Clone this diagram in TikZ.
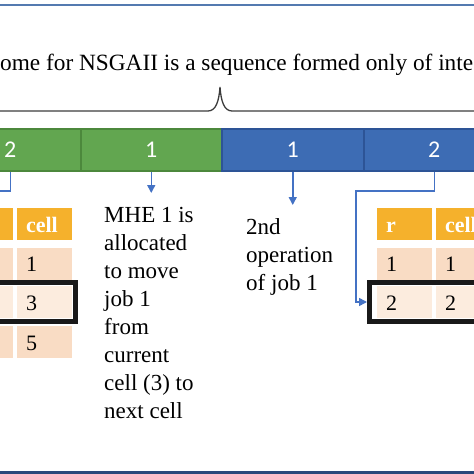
\documentclass[tikz,border=0pt]{standalone}
\usepackage{fontspec}
\setmainfont{Liberation Serif}
\newfontfamily\calib{Carlito}
\usetikzlibrary{arrows.meta}
\definecolor{gfill}{RGB}{98,166,80}
\definecolor{gdraw}{RGB}{76,136,60}
\definecolor{bfill}{RGB}{61,108,180}
\definecolor{bdraw}{RGB}{45,84,150}
\definecolor{arrblue}{RGB}{68,114,196}
\definecolor{hdr}{RGB}{245,177,44}
\definecolor{rowa}{RGB}{249,220,196}
\definecolor{rowb}{RGB}{252,236,222}
\definecolor{topline}{RGB}{84,122,176}
\definecolor{botline}{RGB}{44,72,122}
\definecolor{bracec}{RGB}{60,60,60}
\begin{document}
\begin{tikzpicture}[x=1pt,y=-1pt,
  seg/.style={minimum width=141.5pt, minimum height=42pt, inner sep=0pt, line width=2pt, text=white, font=\calib\fontsize{24}{24}\selectfont},
  tcell/.style={minimum height=32pt, text width=37pt, inner xsep=9pt, inner ysep=0pt, align=left, text height=16pt, text depth=0pt, font=\fontsize{22}{22}\selectfont},
  thead/.style={tcell, fill=hdr, text=white, font=\bfseries\fontsize{22}{22}\selectfont},
  trowa/.style={tcell, fill=rowa},
  trowb/.style={tcell, fill=rowb},
  selbox/.style={draw=black!90, line width=5pt, minimum height=39pt, inner sep=0pt},
  txt/.style={align=left, inner sep=0pt, font=\fontsize{23}{28}\selectfont},
  arr/.style={draw=arrblue, line width=1.5pt, -{Triangle[length=8pt,width=8pt]}}
]
\useasboundingbox (0,0) rectangle (474,474);
\clip (0,0) rectangle (474,474);
% frame lines
\draw[topline, line width=2.5pt] (-5,5) -- (480,5);
\draw[botline, line width=3pt] (-5,472) -- (480,472);
% title
\node[anchor=base west, inner sep=0pt, font=\fontsize{23.3}{28}\selectfont] (title) at (0,70) {ome for NSGAII is a sequence formed only of inte};
% brace
\draw[bracec, line width=1.3pt] (-5,111) -- (208,111) .. controls (216,111) and (219,101) .. (220,87) .. controls (221,101) and (224,111) .. (232,111) -- (480,111);
% chromosome bar
\node[seg, fill=gfill, draw=gdraw] (s1) at (10.25,150) {2};
\node[seg, fill=gfill, draw=gdraw] (s2) at (151.25,150) {1};
\node[seg, fill=bfill, draw=bdraw] (s3) at (292.75,150) {1};
\node[seg, fill=bfill, draw=bdraw] (s4) at (434.25,150) {2};
% left table
\node[thead] (lh1) at (-14.5,224) {};
\node[thead] (lh2) at (44.5,224) {cell};
\node[trowa] (l11) at (-14.5,263.5) {};
\node[trowa] (l12) at (44.5,263.5) {1};
\node[trowb] (l21) at (-14.5,302) {};
\node[trowb] (l22) at (44.5,302) {3};
\node[trowa] (l31) at (-14.5,342) {};
\node[trowa] (l32) at (44.5,342) {5};
\node[selbox, minimum width=145pt] (lbox) at (2.5,302) {};
% right table
\node[thead] (rh1) at (404.5,224) {r};
\node[thead] (rh2) at (463.5,224) {cell};
\node[trowa] (r11) at (404.5,263.5) {1};
\node[trowa] (r12) at (463.5,263.5) {1};
\node[trowb] (r21) at (404.5,302) {2};
\node[trowb] (r22) at (463.5,302) {2};
\node[selbox, minimum width=170.5pt] (rbox) at (454.75,302) {};
% texts
\node[txt, anchor=north west] (mhe) at (104,207.3) {MHE 1 is\\allocated\\to move\\job 1\\from\\current\\cell (3) to\\next cell};
\node[txt, anchor=north west] (op) at (246,218.3) {2nd\\operation\\of job 1};
% connectors
\coordinate (a1) at (-10,191);
\coordinate (a2) at (151.25,193);
\coordinate (a3) at (292.75,205);
\coordinate (b2) at (356,191);
\draw[arr] (s1.south) |- (a1);
\draw[arr] (s2.south) -- (a2);
\draw[arr] (s3.south) -- (a3);
\draw[arr] (s4.south) |- (b2) |- (rbox.west);
\end{tikzpicture}
\end{document}
